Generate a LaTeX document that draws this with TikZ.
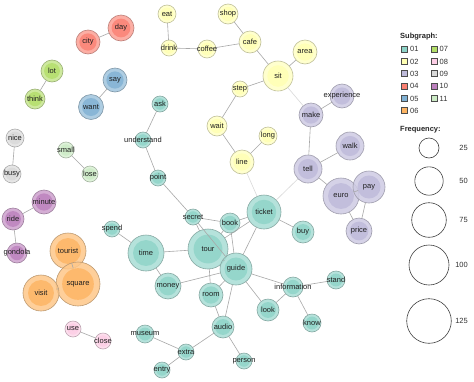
\documentclass[tikz,border=0pt]{standalone}
\usepackage{fontspec}
\setmainfont{Liberation Sans}
\pgfdeclarelayer{edgelayer}
\pgfdeclarelayer{textlayer}
\pgfsetlayers{main,edgelayer,textlayer}
\definecolor{c01}{HTML}{8DD3C7}
\definecolor{c02}{HTML}{FFFFB3}
\definecolor{c03}{HTML}{BEBADA}
\definecolor{c04}{HTML}{FB8072}
\definecolor{c05}{HTML}{80B1D3}
\definecolor{c06}{HTML}{FDB462}
\definecolor{c07}{HTML}{B3DE69}
\definecolor{c08}{HTML}{FCCDE5}
\definecolor{c09}{HTML}{D9D9D9}
\definecolor{c10}{HTML}{BC80BD}
\definecolor{c11}{HTML}{CCEBC5}
\definecolor{edgegray}{HTML}{A8A8A8}
\definecolor{faintgray}{HTML}{DADADA}
\definecolor{txt}{HTML}{1E1E1E}
\tikzset{
  gnode/.style={circle, inner sep=0pt, outer sep=0pt, line width=0.6pt, fill opacity=0.85},
  lbl/.style={font=\fontsize{7.5}{8.5}\selectfont, text=txt, inner sep=0pt},
  edge/.style={draw=edgegray, line width=0.6pt},
  faint/.style={draw=faintgray, line width=0.6pt},
  legsq/.style={draw=black!70, line width=0.5pt, minimum size=6pt, inner sep=0pt},
  legtxt/.style={font=\fontsize{7.5}{8.5}\selectfont, text=black!80, inner sep=0pt, anchor=west},
  legtitle/.style={font=\bfseries\fontsize{7.5}{8.5}\selectfont, text=black!85, inner sep=0pt, anchor=west},
  freqc/.style={circle, draw=black!75, line width=0.6pt, inner sep=0pt, fill=white},
}
\newcommand\gn[6]{%
  \node[gnode, minimum size=#4*2pt, fill=#5!75!white, draw=#5!50!gray] (#1) at (#2,#3) {};
  \fill[#5, fill opacity=0.8] (#2,#3) circle[radius=#4*0.72pt];
  \begin{pgfonlayer}{textlayer}
    \node[lbl] (#1-t) at (#1.center) {#6};
  \end{pgfonlayer}
}
\begin{document}
\begin{tikzpicture}[x=1pt,y=-1pt]
\useasboundingbox (0,0) rectangle (474,381);
\fill[white] (0,0) rectangle (474,381);
% subgraph 01
\gn{ask}{160}{104}{8}{c01}{ask}
\gn{understand}{143}{140}{8}{c01}{understand}
\gn{point}{158}{178}{8}{c01}{point}
\gn{secret}{193}{217}{8}{c01}{secret}
\gn{book}{230}{223}{10}{c01}{book}
\gn{ticket}{264}{212}{17}{c01}{ticket}
\gn{tour}{208}{249}{20}{c01}{tour}
\gn{time}{146}{253}{18}{c01}{time}
\gn{spend}{112}{229}{8}{c01}{spend}
\gn{guide}{236}{269}{16}{c01}{guide}
\gn{money}{168}{286}{13}{c01}{money}
\gn{room}{211}{295}{12}{c01}{room}
\gn{look}{268}{310}{11}{c01}{look}
\gn{information}{293}{287}{10}{c01}{information}
\gn{stand}{336}{280}{9}{c01}{stand}
\gn{know}{312}{323}{9}{c01}{know}
\gn{buy}{303}{232}{11}{c01}{buy}
\gn{audio}{223}{327}{11}{c01}{audio}
\gn{museum}{145}{334}{9}{c01}{museum}
\gn{extra}{186}{352}{8}{c01}{extra}
\gn{entry}{162}{370}{8}{c01}{entry}
\gn{person}{244}{361}{8}{c01}{person}
% subgraph 02
\gn{eat}{167}{14}{9}{c02}{eat}
\gn{drink}{169}{48}{8}{c02}{drink}
\gn{coffee}{207}{49}{9}{c02}{coffee}
\gn{shop}{228}{14}{10}{c02}{shop}
\gn{cafe}{250}{42}{11}{c02}{cafe}
\gn{area}{305}{52}{12}{c02}{area}
\gn{sit}{278}{76}{15}{c02}{sit}
\gn{step}{240}{89}{8}{c02}{step}
\gn{wait}{217}{126}{10}{c02}{wait}
\gn{long}{268}{136}{9}{c02}{long}
\gn{line}{242}{162}{12}{c02}{line}
% subgraph 03
\gn{experience}{342}{96}{12}{c03}{experience}
\gn{make}{311}{115}{12}{c03}{make}
\gn{walk}{350}{146}{14}{c03}{walk}
\gn{tell}{308}{169}{14}{c03}{tell}
\gn{euro}{341}{196}{18}{c03}{euro}
\gn{pay}{369}{187}{16}{c03}{pay}
\gn{price}{359}{231}{13}{c03}{price}
% subgraph 04
\gn{city}{88}{42}{12}{c04}{city}
\gn{day}{121}{28}{13}{c04}{day}
% subgraph 05
\gn{say}{115}{80}{12}{c05}{say}
\gn{want}{91}{107}{12.5}{c05}{want}
% subgraph 06
\gn{tourist}{68}{251}{18}{c06}{tourist}
\gn{square}{78}{284}{22}{c06}{square}
\gn{visit}{41}{293}{18}{c06}{visit}
% subgraph 07
\gn{lot}{52}{71}{11}{c07}{lot}
\gn{think}{35}{99}{10}{c07}{think}
% subgraph 08
\gn{use}{73}{329}{8}{c08}{use}
\gn{close}{103}{341}{8}{c08}{close}
% subgraph 09
\gn{nice}{15}{138}{9}{c09}{nice}
\gn{busy}{12}{174}{9}{c09}{busy}
% subgraph 10
\gn{minute}{44}{202}{12}{c10}{minute}
\gn{ride}{13}{219}{11}{c10}{ride}
\gn{gondola}{17}{253}{10}{c10}{gondola}
% subgraph 11
\gn{small}{66}{150}{8}{c11}{small}
\gn{lose}{90}{174}{8}{c11}{lose}
% edges
\begin{pgfonlayer}{edgelayer}
\foreach \a/\b in {city/day, lot/think, say/want, nice/busy, small/lose,
  eat/drink, drink/coffee, coffee/cafe, shop/cafe, cafe/sit, area/sit, sit/step,
  step/wait, wait/line, line/long,
  ask/understand, understand/point, point/secret,
  make/experience, make/tell, tell/walk, tell/euro, euro/pay, euro/price, pay/price,
  ticket/buy, ticket/book, ticket/tour, ticket/guide,
  secret/book, secret/tour, secret/guide, book/tour, book/guide,
  tour/time, tour/room, tour/guide, time/spend, time/money, money/guide,
  guide/information, guide/look, guide/audio, guide/room,
  information/stand, information/know, information/look,
  room/audio, audio/extra, audio/person, extra/museum, extra/entry,
  minute/ride, ride/gondola, tourist/square, square/visit, use/close}
  \draw[edge] (\a) -- (\b);
\foreach \a/\b in {sit/make, line/ticket, tell/ticket}
  \draw[faint] (\a) -- (\b);
\end{pgfonlayer}
% legend: subgraph
\node[legtitle] (subgraphtitle) at (400,37) {Subgraph:};
\foreach \i/\y in {01/49.3, 02/61.5, 03/73.5, 04/86, 05/98.5, 06/110.5} {
  \node[legsq, fill=c\i] (lg\i) at (404.5,\y) {};
  \node[legtxt] (lg\i t) at (410,\y) {\i};
}
\foreach \i/\y in {07/49.3, 08/61.5, 09/73.5, 10/86, 11/98.5} {
  \node[legsq, fill=c\i] (lg\i) at (434,\y) {};
  \node[legtxt] (lg\i t) at (439.5,\y) {\i};
}
% legend: frequency
\node[legtitle] (freqtitle) at (400,130) {Frequency:};
\foreach \v/\y/\r in {25/148/10, 50/181/14.2, 75/220/17.3, 100/265/20, 125/321/22.3} {
  \node[freqc, minimum size=\r*2pt] (fc\v) at (429,\y) {};
  \node[legtxt, anchor=east] (fl\v) at (468,\y) {\v};
}
\end{tikzpicture}
\end{document}
